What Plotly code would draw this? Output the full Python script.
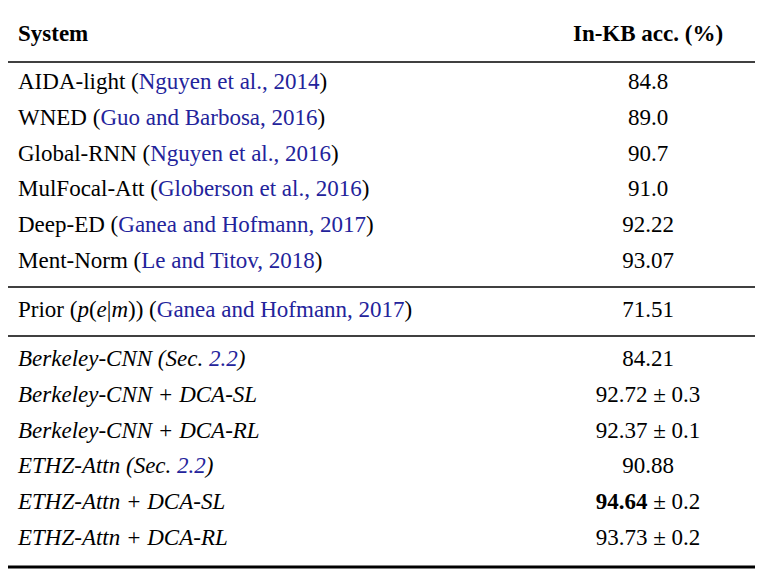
import plotly.graph_objects as go

BLUE = "#23239b"

systems = [
    "AIDA-light (<span style='color:%s'>Nguyen et al., 2014</span>)" % BLUE,
    "WNED (<span style='color:%s'>Guo and Barbosa, 2016</span>)" % BLUE,
    "Global-RNN (<span style='color:%s'>Nguyen et al., 2016</span>)" % BLUE,
    "MulFocal-Att (<span style='color:%s'>Globerson et al., 2016</span>)" % BLUE,
    "Deep-ED (<span style='color:%s'>Ganea and Hofmann, 2017</span>)" % BLUE,
    "Ment-Norm (<span style='color:%s'>Le and Titov, 2018</span>)" % BLUE,
    "Prior (<i>p</i>(<i>e</i>|<i>m</i>)) (<span style='color:%s'>Ganea and Hofmann, 2017</span>)" % BLUE,
    "<i>Berkeley-CNN (Sec. <span style='color:%s'>2.2</span>)</i>" % BLUE,
    "<i>Berkeley-CNN + DCA-SL</i>",
    "<i>Berkeley-CNN + DCA-RL</i>",
    "<i>ETHZ-Attn (Sec. <span style='color:%s'>2.2</span>)</i>" % BLUE,
    "<i>ETHZ-Attn + DCA-SL</i>",
    "<i>ETHZ-Attn + DCA-RL</i>",
]
scores = ["84.8", "89.0", "90.7", "91.0", "92.22", "93.07", "71.51",
          "84.21", "92.72 ± 0.3", "92.37 ± 0.1", "90.88",
          "<b>94.64</b> ± 0.2", "93.73 ± 0.2"]
row_y = [83, 119, 155, 190, 226, 262, 311, 360, 396, 432, 467, 503, 539]

font = dict(family="Liberation Serif, Times New Roman, serif", size=23, color="black")

fig = go.Figure()
fig.add_trace(go.Scatter(x=[18] * len(systems), y=row_y, text=systems, mode="text",
                         textposition="middle right", textfont=font, hoverinfo="skip"))
fig.add_trace(go.Scatter(x=[648] * len(scores), y=row_y, text=scores, mode="text",
                         textposition="middle center", textfont=font, hoverinfo="skip"))
fig.add_trace(go.Scatter(x=[18, 648], y=[35, 35], text=["<b>System</b>", "<b>In-KB acc. (%)</b>"],
                         mode="text", textposition=["middle right", "middle center"],
                         textfont=font, hoverinfo="skip"))

for y, w in [(5, 3), (62, 1.5), (287, 1.5), (336, 1.5), (567, 3)]:
    fig.add_shape(type="line", x0=5, x1=758, y0=y, y1=y, line=dict(color="black", width=w))

# page body has an 8px margin, so the figure is offset; compensate via axis ranges
fig.update_layout(width=755, height=567, margin=dict(l=0, r=0, t=0, b=0),
                  plot_bgcolor="white", paper_bgcolor="white", showlegend=False,
                  xaxis=dict(range=[8, 763], visible=False),
                  yaxis=dict(range=[575, 8], visible=False))
fig.write_html("out.html")
